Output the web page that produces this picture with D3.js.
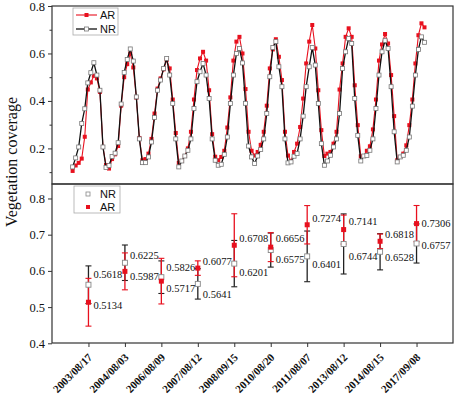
<!DOCTYPE html>
<html>
<head>
<meta charset="utf-8">
<script src="https://cdn.jsdelivr.net/npm/d3@7/dist/d3.min.js"></script>
<style>
  html, body { margin: 0; padding: 0; background: #fff; }
  svg { display: block; }
</style>
</head>
<body>
<svg id="chart" width="474" height="394"></svg>
<script>
// ---------- DATA ----------
// Top panel: monthly vegetation coverage series
const nrSeries = [
  0.122, 0.160, 0.206, 0.305, 0.367, 0.476, 0.519, 0.561, 0.509, 0.445, 0.206, 0.120,
  0.128, 0.166, 0.180, 0.224, 0.387, 0.520, 0.575, 0.619, 0.568, 0.417, 0.240, 0.140,
  0.140, 0.164, 0.227, 0.330, 0.445, 0.488, 0.537, 0.579, 0.509, 0.389, 0.240, 0.122,
  0.147, 0.168, 0.192, 0.240, 0.368, 0.481, 0.523, 0.558, 0.509, 0.410, 0.240, 0.150,
  0.129, 0.133, 0.175, 0.248, 0.389, 0.509, 0.600, 0.621, 0.560, 0.390, 0.210, 0.164,
  0.136, 0.168, 0.195, 0.240, 0.347, 0.502, 0.625, 0.650, 0.544, 0.460, 0.240, 0.139,
  0.143, 0.167, 0.178, 0.240, 0.336, 0.460, 0.544, 0.625, 0.551, 0.389, 0.220, 0.129,
  0.147, 0.171, 0.206, 0.240, 0.347, 0.537, 0.607, 0.663, 0.642, 0.410, 0.255, 0.147,
  0.168, 0.170, 0.192, 0.240, 0.368, 0.509, 0.607, 0.654, 0.621, 0.460, 0.270, 0.143,
  0.164, 0.171, 0.192, 0.248, 0.378, 0.509, 0.617, 0.670, 0.647
];
const arSeries = [
  0.105, 0.128, 0.139, 0.157, 0.249, 0.448, 0.478, 0.506, 0.495, 0.438, 0.206, 0.130,
  0.115, 0.155, 0.175, 0.210, 0.380, 0.500, 0.555, 0.600, 0.541, 0.414, 0.244, 0.150,
  0.155, 0.178, 0.240, 0.347, 0.452, 0.495, 0.533, 0.572, 0.537, 0.406, 0.265, 0.139,
  0.147, 0.168, 0.200, 0.270, 0.406, 0.530, 0.579, 0.607, 0.570, 0.445, 0.260, 0.165,
  0.150, 0.164, 0.190, 0.288, 0.415, 0.570, 0.650, 0.670, 0.600, 0.450, 0.270, 0.190,
  0.170, 0.185, 0.215, 0.270, 0.380, 0.537, 0.617, 0.660, 0.586, 0.488, 0.270, 0.170,
  0.147, 0.185, 0.220, 0.290, 0.410, 0.558, 0.650, 0.720, 0.621, 0.445, 0.277, 0.168,
  0.178, 0.185, 0.220, 0.270, 0.448, 0.558, 0.670, 0.706, 0.670, 0.466, 0.298, 0.167,
  0.168, 0.190, 0.209, 0.280, 0.406, 0.570, 0.638, 0.682, 0.642, 0.509, 0.336, 0.150,
  0.164, 0.178, 0.213, 0.298, 0.406, 0.558, 0.677, 0.727, 0.710
];

// Bottom panel: scene dates, means and error half-widths
const categories = ["2003/08/17","2004/08/03","2006/08/09","2007/08/12","2008/09/15",
                    "2010/08/20","2011/08/07","2013/08/12","2014/08/15","2017/09/08"];
const nrMean = [0.5618, 0.6225, 0.5826, 0.5641, 0.6201, 0.6575, 0.6401, 0.6744, 0.6528, 0.6757];
const nrErr  = [0.052, 0.049, 0.045, 0.042, 0.064, 0.047, 0.070, 0.083, 0.050, 0.054];
const arMean = [0.5134, 0.5987, 0.5717, 0.6077, 0.6708, 0.6656, 0.7274, 0.7141, 0.6818, 0.7306];
const arErr  = [0.066, 0.051, 0.063, 0.020, 0.087, 0.040, 0.053, 0.040, 0.020, 0.050];

const topTicks = [0.2, 0.4, 0.6, 0.8];
const topMinorTicks = [0.1, 0.3, 0.5, 0.7];
const bottomTicks = [0.4, 0.5, 0.6, 0.7, 0.8];

// ---------- LAYOUT ----------
const L = 52, R = 453, T1 = 6, B1 = 184, B2 = 343;
// label vertical nudges (px) to avoid overlap, NR / AR
const nrLabelNudge = [-10, -7, -10, 10, 9, 9, 8, 12, 6, 2];
const arLabelNudge = [3, 5, 7, -7, -7, -9, -6, -8, -7, 0];

const RED = "#e8101e";
const SERIF = "'Liberation Serif', 'Times New Roman', serif";
const SANS = "'Liberation Sans', Arial, sans-serif";

const svg = d3.select("#chart");

// ---------- TOP PANEL ----------
const xTop = d3.scaleLinear().domain([-6.8, 125.4]).range([L, R]);
const yTop = d3.scaleLinear().domain([0.05, 0.8]).range([B1, T1]);

const gTop = svg.append("g");

const lineTop = d3.line().x((d, i) => xTop(i)).y(d => yTop(d));

gTop.append("path").datum(arSeries)
  .attr("d", lineTop).attr("fill", "none")
  .attr("stroke", RED).attr("stroke-width", 1.1);
gTop.append("g").selectAll("rect").data(arSeries).join("rect")
  .attr("x", (d, i) => xTop(i) - 2).attr("y", d => yTop(d) - 2)
  .attr("width", 4).attr("height", 4).attr("fill", RED);

gTop.append("path").datum(nrSeries)
  .attr("d", lineTop).attr("fill", "none")
  .attr("stroke", "#111").attr("stroke-width", 1.3);
gTop.append("g").selectAll("rect").data(nrSeries).join("rect")
  .attr("x", (d, i) => xTop(i) - 2).attr("y", d => yTop(d) - 2)
  .attr("width", 4).attr("height", 4).attr("fill", "#fff")
  .attr("stroke", "#777").attr("stroke-width", 0.8);

// axes
const yAxisTop = svg.append("g").attr("transform", `translate(${L},0)`)
  .call(d3.axisLeft(yTop).tickValues(topTicks).tickFormat(d3.format(".1f")).tickSize(4).tickPadding(3));
const yAxisTopMinor = svg.append("g").attr("transform", `translate(${L},0)`)
  .call(d3.axisLeft(yTop).tickValues(topMinorTicks).tickFormat("").tickSize(2.5));

// legend top
const legTop = svg.append("g");
legTop.append("rect").attr("x", 73).attr("y", 8).attr("width", 45).attr("height", 27)
  .attr("fill", "#fff").attr("stroke", "#aaa").attr("stroke-width", 0.8);
legTop.append("line").attr("x1", 76).attr("x2", 97).attr("y1", 15).attr("y2", 15)
  .attr("stroke", RED).attr("stroke-width", 1.1);
legTop.append("rect").attr("x", 84.5).attr("y", 13).attr("width", 4).attr("height", 4).attr("fill", RED);
legTop.append("text").attr("x", 100).attr("y", 19).text("AR")
  .attr("font-family", SANS).attr("font-size", 11).attr("fill", "#111");
legTop.append("line").attr("x1", 76).attr("x2", 97).attr("y1", 29).attr("y2", 29)
  .attr("stroke", "#111").attr("stroke-width", 1.3);
legTop.append("rect").attr("x", 84.5).attr("y", 27).attr("width", 4).attr("height", 4)
  .attr("fill", "#fff").attr("stroke", "#777").attr("stroke-width", 0.8);
legTop.append("text").attr("x", 100).attr("y", 33).text("NR")
  .attr("font-family", SANS).attr("font-size", 11).attr("fill", "#111");

// ---------- BOTTOM PANEL ----------
const xBot = d3.scalePoint().domain(categories).range([L, R]).padding(1);
const yBot = d3.scaleLinear().domain([0.4, 0.84]).range([B2 + 0.3, B1]);

const gBot = svg.append("g");
const cap = 3;

function errorBars(mean, err, color, cls) {
  const g = gBot.append("g").attr("class", cls);
  const items = categories.map((c, i) => ({ c, m: mean[i], e: err[i] }));
  g.selectAll("line.v").data(items).join("line").attr("class", "v")
    .attr("x1", d => xBot(d.c)).attr("x2", d => xBot(d.c))
    .attr("y1", d => yBot(d.m + d.e)).attr("y2", d => yBot(d.m - d.e))
    .attr("stroke", color).attr("stroke-width", 1.3);
  g.selectAll("line.t").data(items).join("line").attr("class", "t")
    .attr("x1", d => xBot(d.c) - cap).attr("x2", d => xBot(d.c) + cap)
    .attr("y1", d => yBot(d.m + d.e)).attr("y2", d => yBot(d.m + d.e))
    .attr("stroke", color).attr("stroke-width", 1.1);
  g.selectAll("line.b").data(items).join("line").attr("class", "b")
    .attr("x1", d => xBot(d.c) - cap).attr("x2", d => xBot(d.c) + cap)
    .attr("y1", d => yBot(d.m - d.e)).attr("y2", d => yBot(d.m - d.e))
    .attr("stroke", color).attr("stroke-width", 1.1);
  return items;
}

const nrItems = errorBars(nrMean, nrErr, "#222", "nr");
const arItems = errorBars(arMean, arErr, RED, "ar");

gBot.append("g").selectAll("rect").data(nrItems).join("rect")
  .attr("x", d => xBot(d.c) - 2.5).attr("y", d => yBot(d.m) - 2.5)
  .attr("width", 5).attr("height", 5).attr("fill", "#fff")
  .attr("stroke", "#888").attr("stroke-width", 0.9);
gBot.append("g").selectAll("rect").data(arItems).join("rect")
  .attr("x", d => xBot(d.c) - 2.5).attr("y", d => yBot(d.m) - 2.5)
  .attr("width", 5).attr("height", 5).attr("fill", RED);

// value labels
gBot.append("g").selectAll("text").data(nrItems).join("text")
  .attr("x", d => xBot(d.c) + 5)
  .attr("y", (d, i) => yBot(d.m) + nrLabelNudge[i])
  .attr("dy", "0.35em")
  .attr("font-family", SERIF).attr("font-size", 10.5).attr("fill", "#111")
  .text(d => d3.format(".4f")(d.m));
gBot.append("g").selectAll("text").data(arItems).join("text")
  .attr("x", d => xBot(d.c) + 5)
  .attr("y", (d, i) => yBot(d.m) + arLabelNudge[i])
  .attr("dy", "0.35em")
  .attr("font-family", SERIF).attr("font-size", 10.5).attr("fill", "#111")
  .text(d => d3.format(".4f")(d.m));

// axes bottom panel
const yAxisBot = svg.append("g").attr("transform", `translate(${L},0)`)
  .call(d3.axisLeft(yBot).tickValues(bottomTicks).tickFormat(d3.format(".1f")).tickSize(4).tickPadding(3));

const xAxisBot = svg.append("g").attr("transform", `translate(0,${B2})`)
  .call(d3.axisBottom(xBot).tickSize(4));
xAxisBot.selectAll("text")
  .attr("x", 0).attr("y", 0).attr("dy", 0)
  .attr("text-anchor", "end")
  .attr("transform", "translate(4,15) rotate(-45)")
  .attr("font-family", SERIF).attr("font-weight", "bold").attr("font-size", 11)
  .attr("fill", "#111");

[yAxisTop, yAxisTopMinor, yAxisBot, xAxisBot].forEach(a => {
  a.select(".domain").remove();
  a.selectAll(".tick line").attr("stroke", "#333");
});
[yAxisTop, yAxisBot].forEach(a => {
  a.selectAll(".tick text").attr("font-family", SERIF).attr("font-size", 12.5).attr("fill", "#111");
});

// legend bottom
const legBot = svg.append("g");
legBot.append("rect").attr("x", 74).attr("y", 186).attr("width", 46).attr("height", 27)
  .attr("fill", "#fff").attr("stroke", "#aaa").attr("stroke-width", 0.8);
legBot.append("rect").attr("x", 86).attr("y", 192).attr("width", 4).attr("height", 4)
  .attr("fill", "#fff").attr("stroke", "#888").attr("stroke-width", 0.8);
legBot.append("text").attr("x", 100).attr("y", 198).text("NR")
  .attr("font-family", SANS).attr("font-size", 11).attr("fill", "#111");
legBot.append("rect").attr("x", 86).attr("y", 205).attr("width", 4).attr("height", 4).attr("fill", RED);
legBot.append("text").attr("x", 100).attr("y", 211).text("AR")
  .attr("font-family", SANS).attr("font-size", 11).attr("fill", "#111");

// frames
svg.append("rect").attr("x", L).attr("y", T1).attr("width", R - L).attr("height", B1 - T1)
  .attr("fill", "none").attr("stroke", "#333").attr("stroke-width", 1.2);
svg.append("rect").attr("x", L).attr("y", B1).attr("width", R - L).attr("height", B2 - B1)
  .attr("fill", "none").attr("stroke", "#333").attr("stroke-width", 1.2);

// y title
svg.append("text")
  .attr("transform", "translate(17,162) rotate(-90)")
  .attr("text-anchor", "middle")
  .attr("font-family", SERIF).attr("font-size", 16).attr("fill", "#111")
  .text("Vegetation coverage");
</script>
</body>
</html>
